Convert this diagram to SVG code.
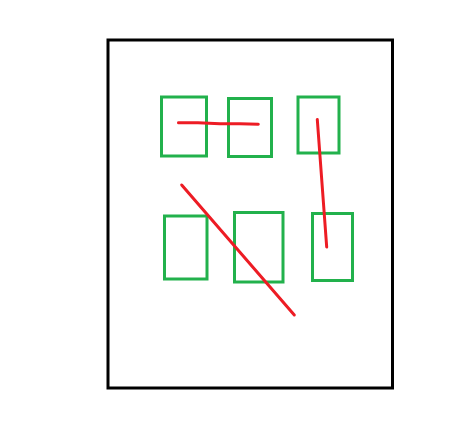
<svg xmlns="http://www.w3.org/2000/svg" width="474" height="439" viewBox="0 0 474 439">
<style>
.box{fill:none;stroke:#22b14c;stroke-width:3}
.ln{fill:none;stroke:#ed1c24;stroke-width:3;stroke-linecap:round}
</style>
<rect width="474" height="439" fill="#fff"/>
<rect x="108" y="40" width="284.5" height="348" fill="none" stroke="#000" stroke-width="3"/>
<g id="n1"><rect class="box" x="161.5" y="97" width="45" height="59"/></g>
<g id="n2"><rect class="box" x="228.5" y="98.5" width="43" height="58"/></g>
<g id="n3"><rect class="box" x="298" y="97" width="41" height="56"/></g>
<g id="n4"><rect class="box" x="164.5" y="216" width="42.5" height="63"/></g>
<g id="n5"><rect class="box" x="234.5" y="212.5" width="48.5" height="69.5"/></g>
<g id="n6"><rect class="box" x="312.5" y="213.5" width="40" height="67"/></g>
<g id="connectors">
<path class="ln" d="M178.5,122.7 L198,122.8 L220,123.8 L240,123.8 L258.3,124.3"/>
<line class="ln" x1="317.3" y1="119.5" x2="326.7" y2="247"/>
<line class="ln" x1="181.7" y1="185" x2="294.3" y2="315"/>
</g>
</svg>
